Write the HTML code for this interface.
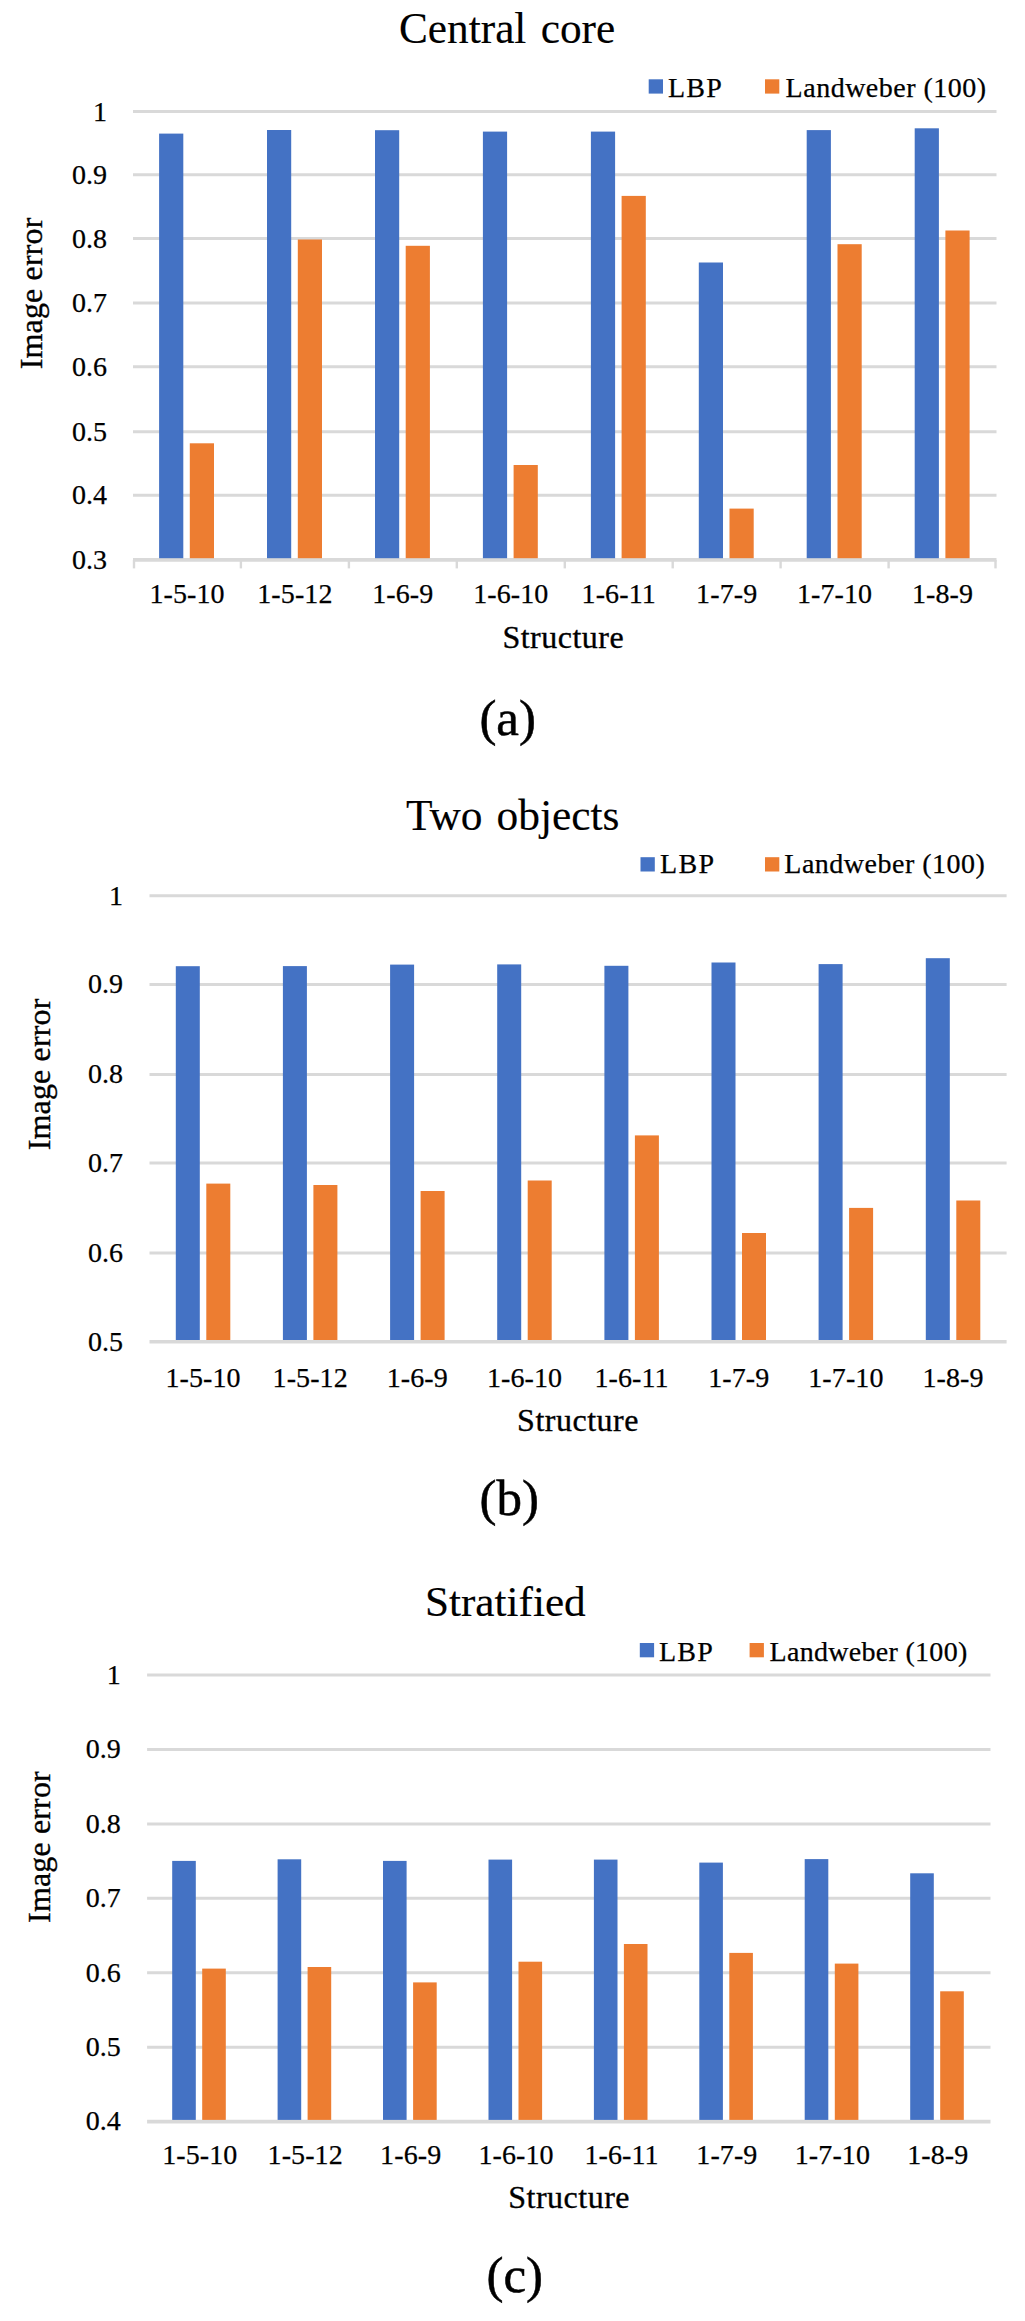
<!DOCTYPE html>
<html lang="en"><head><meta charset="utf-8"><title>Image error by structure</title>
<style>
html,body{margin:0;padding:0;background:#fff}
svg{display:block}
text{font-family:"Liberation Serif",serif;fill:#000;stroke:#000;stroke-width:.15px}
.ls{letter-spacing:.1px}
.yl{letter-spacing:0}
.tk{font-size:28px;stroke-width:.25px}
.ax{font-size:32px;letter-spacing:.5px;stroke-width:.35px}
.tt{font-size:44px}
.sb{font-size:51px;stroke-width:.5px}
</style></head><body>
<svg width="1025" height="2321" viewBox="0 0 1025 2321">
<rect width="1025" height="2321" fill="#fff"/>
<g>
<line x1="133.0" y1="111.5" x2="996.5" y2="111.5" stroke="#D9D9D9" stroke-width="3.0"/>
<line x1="133.0" y1="174.7" x2="996.5" y2="174.7" stroke="#D9D9D9" stroke-width="3.0"/>
<line x1="133.0" y1="238.5" x2="996.5" y2="238.5" stroke="#D9D9D9" stroke-width="3.0"/>
<line x1="133.0" y1="303.1" x2="996.5" y2="303.1" stroke="#D9D9D9" stroke-width="3.0"/>
<line x1="133.0" y1="366.8" x2="996.5" y2="366.8" stroke="#D9D9D9" stroke-width="3.0"/>
<line x1="133.0" y1="431.7" x2="996.5" y2="431.7" stroke="#D9D9D9" stroke-width="3.0"/>
<line x1="133.0" y1="495.2" x2="996.5" y2="495.2" stroke="#D9D9D9" stroke-width="3.0"/>
<line x1="133.0" y1="559.9" x2="996.5" y2="559.9" stroke="#D9D9D9" stroke-width="3.6"/>
<line x1="134.0" y1="559.9" x2="134.0" y2="568.4" stroke="#D9D9D9" stroke-width="2.4"/>
<line x1="240.9" y1="559.9" x2="240.9" y2="568.4" stroke="#D9D9D9" stroke-width="2.4"/>
<line x1="348.9" y1="559.9" x2="348.9" y2="568.4" stroke="#D9D9D9" stroke-width="2.4"/>
<line x1="456.8" y1="559.9" x2="456.8" y2="568.4" stroke="#D9D9D9" stroke-width="2.4"/>
<line x1="564.8" y1="559.9" x2="564.8" y2="568.4" stroke="#D9D9D9" stroke-width="2.4"/>
<line x1="672.7" y1="559.9" x2="672.7" y2="568.4" stroke="#D9D9D9" stroke-width="2.4"/>
<line x1="780.6" y1="559.9" x2="780.6" y2="568.4" stroke="#D9D9D9" stroke-width="2.4"/>
<line x1="888.6" y1="559.9" x2="888.6" y2="568.4" stroke="#D9D9D9" stroke-width="2.4"/>
<line x1="995.5" y1="559.9" x2="995.5" y2="568.4" stroke="#D9D9D9" stroke-width="2.4"/>
<rect x="159.1" y="133.6" width="24.2" height="424.6" fill="#4472C4"/>
<rect x="189.8" y="443.3" width="24.2" height="114.9" fill="#ED7D31"/>
<rect x="267.0" y="130.0" width="24.2" height="428.2" fill="#4472C4"/>
<rect x="297.8" y="239.5" width="24.2" height="318.7" fill="#ED7D31"/>
<rect x="375.0" y="130.2" width="24.2" height="428.0" fill="#4472C4"/>
<rect x="405.7" y="245.8" width="24.2" height="312.4" fill="#ED7D31"/>
<rect x="482.9" y="131.6" width="24.2" height="426.6" fill="#4472C4"/>
<rect x="513.6" y="465.0" width="24.2" height="93.2" fill="#ED7D31"/>
<rect x="590.9" y="131.6" width="24.2" height="426.6" fill="#4472C4"/>
<rect x="621.6" y="195.9" width="24.2" height="362.3" fill="#ED7D31"/>
<rect x="698.8" y="262.5" width="24.2" height="295.7" fill="#4472C4"/>
<rect x="729.5" y="508.6" width="24.2" height="49.6" fill="#ED7D31"/>
<rect x="806.7" y="130.1" width="24.2" height="428.1" fill="#4472C4"/>
<rect x="837.5" y="244.2" width="24.2" height="314.0" fill="#ED7D31"/>
<rect x="914.7" y="128.3" width="24.2" height="429.9" fill="#4472C4"/>
<rect x="945.4" y="230.5" width="24.2" height="327.7" fill="#ED7D31"/>
<text class="tk yl" x="107.0" y="120.5" text-anchor="end">1</text>
<text class="tk yl" x="107.0" y="183.7" text-anchor="end">0.9</text>
<text class="tk yl" x="107.0" y="247.5" text-anchor="end">0.8</text>
<text class="tk yl" x="107.0" y="312.1" text-anchor="end">0.7</text>
<text class="tk yl" x="107.0" y="375.8" text-anchor="end">0.6</text>
<text class="tk yl" x="107.0" y="440.7" text-anchor="end">0.5</text>
<text class="tk yl" x="107.0" y="504.2" text-anchor="end">0.4</text>
<text class="tk yl" x="107.0" y="568.9" text-anchor="end">0.3</text>
<text class="tk ls" x="187.0" y="602.9" text-anchor="middle">1-5-10</text>
<text class="tk ls" x="294.9" y="602.9" text-anchor="middle">1-5-12</text>
<text class="tk ls" x="402.8" y="602.9" text-anchor="middle">1-6-9</text>
<text class="tk ls" x="510.8" y="602.9" text-anchor="middle">1-6-10</text>
<text class="tk ls" x="618.7" y="602.9" text-anchor="middle">1-6-11</text>
<text class="tk ls" x="726.7" y="602.9" text-anchor="middle">1-7-9</text>
<text class="tk ls" x="834.6" y="602.9" text-anchor="middle">1-7-10</text>
<text class="tk ls" x="942.5" y="602.9" text-anchor="middle">1-8-9</text>
<text class="ax" x="563.3" y="647.6" text-anchor="middle">Structure</text>
<text class="ax" style="letter-spacing:.15px" transform="translate(42.2 293.4) rotate(-90)" text-anchor="middle">Image error</text>
<text class="tt" style="font-size:43.3px;word-spacing:3.5px" x="507.1" y="42.6" text-anchor="middle">Central core</text>
<rect x="648.7" y="79.3" width="14.3" height="14.3" fill="#4472C4"/>
<text class="tk" style="letter-spacing:1.3px" x="667.9" y="96.7">LBP</text>
<rect x="765.0" y="79.3" width="14.3" height="14.3" fill="#ED7D31"/>
<text class="tk" style="letter-spacing:0.5px" x="785.6" y="96.7">Landweber (100)</text>
<text class="sb" x="507.7" y="734.6" text-anchor="middle">(a)</text>
</g>
<g>
<line x1="149.5" y1="895.7" x2="1006.6" y2="895.7" stroke="#D9D9D9" stroke-width="3.0"/>
<line x1="149.5" y1="984.6" x2="1006.6" y2="984.6" stroke="#D9D9D9" stroke-width="3.0"/>
<line x1="149.5" y1="1074.4" x2="1006.6" y2="1074.4" stroke="#D9D9D9" stroke-width="3.0"/>
<line x1="149.5" y1="1163.0" x2="1006.6" y2="1163.0" stroke="#D9D9D9" stroke-width="3.0"/>
<line x1="149.5" y1="1252.9" x2="1006.6" y2="1252.9" stroke="#D9D9D9" stroke-width="3.0"/>
<line x1="149.5" y1="1341.7" x2="1006.6" y2="1341.7" stroke="#D9D9D9" stroke-width="3.6"/>
<rect x="175.8" y="966.2" width="24.0" height="373.8" fill="#4472C4"/>
<rect x="206.3" y="1183.6" width="24.0" height="156.4" fill="#ED7D31"/>
<rect x="282.9" y="966.1" width="24.0" height="373.9" fill="#4472C4"/>
<rect x="313.4" y="1185.0" width="24.0" height="155.0" fill="#ED7D31"/>
<rect x="390.1" y="964.6" width="24.0" height="375.4" fill="#4472C4"/>
<rect x="420.6" y="1191.0" width="24.0" height="149.0" fill="#ED7D31"/>
<rect x="497.2" y="964.4" width="24.0" height="375.6" fill="#4472C4"/>
<rect x="527.7" y="1180.5" width="24.0" height="159.5" fill="#ED7D31"/>
<rect x="604.4" y="965.8" width="24.0" height="374.2" fill="#4472C4"/>
<rect x="634.9" y="1135.4" width="24.0" height="204.6" fill="#ED7D31"/>
<rect x="711.5" y="962.5" width="24.0" height="377.5" fill="#4472C4"/>
<rect x="742.0" y="1233.0" width="24.0" height="107.0" fill="#ED7D31"/>
<rect x="818.6" y="964.1" width="24.0" height="375.9" fill="#4472C4"/>
<rect x="849.1" y="1207.9" width="24.0" height="132.1" fill="#ED7D31"/>
<rect x="925.8" y="958.2" width="24.0" height="381.8" fill="#4472C4"/>
<rect x="956.3" y="1200.5" width="24.0" height="139.5" fill="#ED7D31"/>
<text class="tk yl" x="122.9" y="904.5" text-anchor="end">1</text>
<text class="tk yl" x="122.9" y="993.4" text-anchor="end">0.9</text>
<text class="tk yl" x="122.9" y="1083.2" text-anchor="end">0.8</text>
<text class="tk yl" x="122.9" y="1171.8" text-anchor="end">0.7</text>
<text class="tk yl" x="122.9" y="1261.7" text-anchor="end">0.6</text>
<text class="tk yl" x="122.9" y="1350.5" text-anchor="end">0.5</text>
<text class="tk ls" x="203.1" y="1387.0" text-anchor="middle">1-5-10</text>
<text class="tk ls" x="310.2" y="1387.0" text-anchor="middle">1-5-12</text>
<text class="tk ls" x="417.3" y="1387.0" text-anchor="middle">1-6-9</text>
<text class="tk ls" x="524.5" y="1387.0" text-anchor="middle">1-6-10</text>
<text class="tk ls" x="631.6" y="1387.0" text-anchor="middle">1-6-11</text>
<text class="tk ls" x="738.8" y="1387.0" text-anchor="middle">1-7-9</text>
<text class="tk ls" x="845.9" y="1387.0" text-anchor="middle">1-7-10</text>
<text class="tk ls" x="953.0" y="1387.0" text-anchor="middle">1-8-9</text>
<text class="ax" x="578.0" y="1431.0" text-anchor="middle">Structure</text>
<text class="ax" style="letter-spacing:.15px" transform="translate(50.2 1074.4) rotate(-90)" text-anchor="middle">Image error</text>
<text class="tt" style="font-size:43.4px;word-spacing:3.2px" x="512.7" y="830.0" text-anchor="middle">Two objects</text>
<rect x="640.5" y="857.2" width="14.3" height="14.3" fill="#4472C4"/>
<text class="tk" style="letter-spacing:1.3px" x="660.0" y="872.8">LBP</text>
<rect x="765.0" y="857.2" width="14.3" height="14.3" fill="#ED7D31"/>
<text class="tk" style="letter-spacing:0.5px" x="784.3" y="872.8">Landweber (100)</text>
<text class="sb" x="509.3" y="1515.2" text-anchor="middle">(b)</text>
</g>
<g>
<line x1="147.1" y1="1675.0" x2="990.5" y2="1675.0" stroke="#D9D9D9" stroke-width="3.0"/>
<line x1="147.1" y1="1749.4" x2="990.5" y2="1749.4" stroke="#D9D9D9" stroke-width="3.0"/>
<line x1="147.1" y1="1823.9" x2="990.5" y2="1823.9" stroke="#D9D9D9" stroke-width="3.0"/>
<line x1="147.1" y1="1898.3" x2="990.5" y2="1898.3" stroke="#D9D9D9" stroke-width="3.0"/>
<line x1="147.1" y1="1972.7" x2="990.5" y2="1972.7" stroke="#D9D9D9" stroke-width="3.0"/>
<line x1="147.1" y1="2047.2" x2="990.5" y2="2047.2" stroke="#D9D9D9" stroke-width="3.0"/>
<line x1="147.1" y1="2121.6" x2="990.5" y2="2121.6" stroke="#D9D9D9" stroke-width="3.6"/>
<rect x="172.2" y="1860.9" width="23.6" height="259.0" fill="#4472C4"/>
<rect x="202.2" y="1968.6" width="23.6" height="151.3" fill="#ED7D31"/>
<rect x="277.6" y="1859.3" width="23.6" height="260.6" fill="#4472C4"/>
<rect x="307.6" y="1967.0" width="23.6" height="152.9" fill="#ED7D31"/>
<rect x="383.0" y="1860.9" width="23.6" height="259.0" fill="#4472C4"/>
<rect x="413.1" y="1982.4" width="23.6" height="137.5" fill="#ED7D31"/>
<rect x="488.5" y="1859.6" width="23.6" height="260.3" fill="#4472C4"/>
<rect x="518.5" y="1961.7" width="23.6" height="158.2" fill="#ED7D31"/>
<rect x="593.9" y="1859.6" width="23.6" height="260.3" fill="#4472C4"/>
<rect x="623.9" y="1944.0" width="23.6" height="175.9" fill="#ED7D31"/>
<rect x="699.3" y="1862.6" width="23.6" height="257.3" fill="#4472C4"/>
<rect x="729.3" y="1952.9" width="23.6" height="167.0" fill="#ED7D31"/>
<rect x="804.7" y="1859.1" width="23.6" height="260.8" fill="#4472C4"/>
<rect x="834.8" y="1963.6" width="23.6" height="156.3" fill="#ED7D31"/>
<rect x="910.2" y="1873.3" width="23.6" height="246.6" fill="#4472C4"/>
<rect x="940.2" y="1991.3" width="23.6" height="128.6" fill="#ED7D31"/>
<text class="tk yl" x="120.7" y="1683.8" text-anchor="end">1</text>
<text class="tk yl" x="120.7" y="1758.2" text-anchor="end">0.9</text>
<text class="tk yl" x="120.7" y="1832.7" text-anchor="end">0.8</text>
<text class="tk yl" x="120.7" y="1907.1" text-anchor="end">0.7</text>
<text class="tk yl" x="120.7" y="1981.5" text-anchor="end">0.6</text>
<text class="tk yl" x="120.7" y="2056.0" text-anchor="end">0.5</text>
<text class="tk yl" x="120.7" y="2130.4" text-anchor="end">0.4</text>
<text class="tk ls" x="199.8" y="2163.7" text-anchor="middle">1-5-10</text>
<text class="tk ls" x="305.2" y="2163.7" text-anchor="middle">1-5-12</text>
<text class="tk ls" x="410.7" y="2163.7" text-anchor="middle">1-6-9</text>
<text class="tk ls" x="516.1" y="2163.7" text-anchor="middle">1-6-10</text>
<text class="tk ls" x="621.5" y="2163.7" text-anchor="middle">1-6-11</text>
<text class="tk ls" x="726.9" y="2163.7" text-anchor="middle">1-7-9</text>
<text class="tk ls" x="832.4" y="2163.7" text-anchor="middle">1-7-10</text>
<text class="tk ls" x="937.8" y="2163.7" text-anchor="middle">1-8-9</text>
<text class="ax" x="569.1" y="2208.4" text-anchor="middle">Structure</text>
<text class="ax" style="letter-spacing:.15px" transform="translate(49.8 1847.0) rotate(-90)" text-anchor="middle">Image error</text>
<text class="tt" style="font-size:43.2px;word-spacing:0px" x="505.3" y="1615.7" text-anchor="middle">Stratified</text>
<rect x="639.8" y="1643.0" width="14.3" height="14.3" fill="#4472C4"/>
<text class="tk" style="letter-spacing:1.3px" x="658.9" y="1660.8">LBP</text>
<rect x="749.6" y="1643.0" width="14.3" height="14.3" fill="#ED7D31"/>
<text class="tk" style="letter-spacing:0.3px" x="769.5" y="1660.8">Landweber (100)</text>
<text class="sb" x="514.8" y="2292.2" text-anchor="middle">(c)</text>
</g>
</svg>
</body></html>
